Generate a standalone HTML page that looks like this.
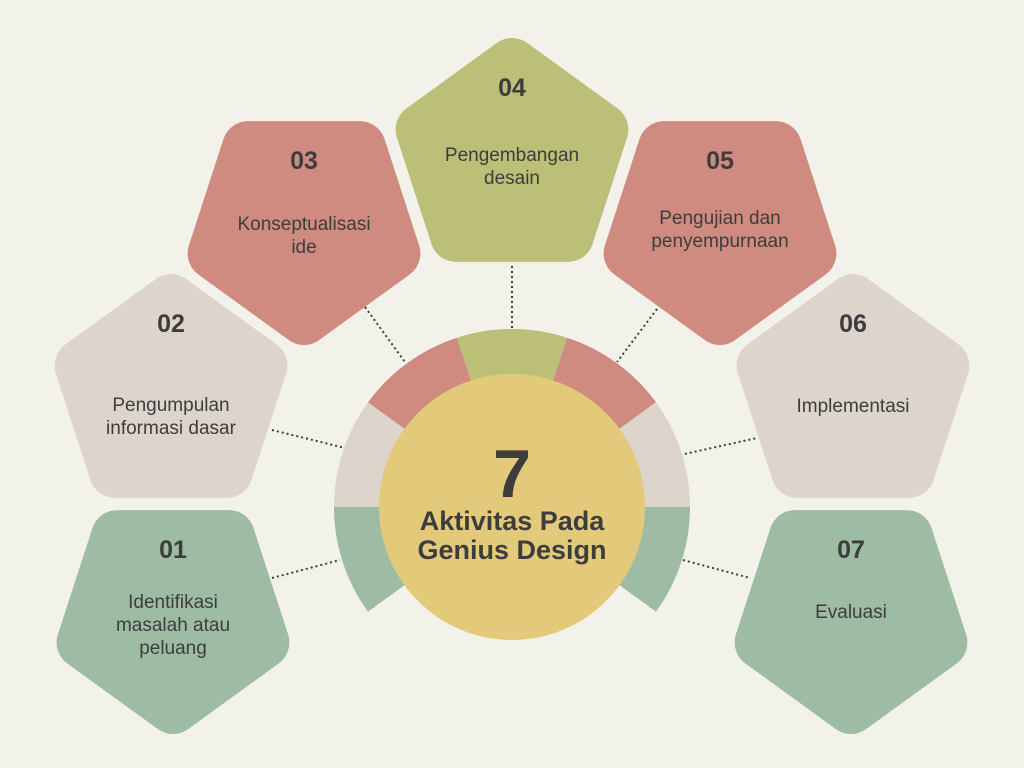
<!DOCTYPE html>
<html><head><meta charset="utf-8"><style>
html,body{margin:0;padding:0;background:#f2f2eb}
svg{display:block}
text{font-family:"Liberation Sans",sans-serif;fill:#3d3d3d;text-anchor:middle}
.n{font-weight:bold;font-size:25px}
.l{font-size:19px}
</style></head><body>
<svg width="1024" height="768" viewBox="0 0 1024 768">
<defs>
<polygon id="up" points="0,-95 90.4,-29.4 55.8,76.9 -55.8,76.9 -90.4,-29.4" stroke-width="52" stroke-linejoin="round"/>
<polygon id="dn" points="0,95 90.4,29.4 55.8,-76.9 -55.8,-76.9 -90.4,29.4" stroke-width="52" stroke-linejoin="round"/>
</defs>
<rect width="1024" height="768" fill="#f2f2eb"/>
<g stroke="#3d3d3d" stroke-width="2" stroke-dasharray="2,3">
<line x1="512" y1="266" x2="512" y2="328"/>
<line x1="365" y1="307" x2="405" y2="362"/>
<line x1="660" y1="305" x2="617" y2="362"/>
<line x1="272" y1="430" x2="345" y2="448"/>
<line x1="680" y1="455" x2="757" y2="438"/>
<line x1="272" y1="578" x2="340" y2="560"/>
<line x1="683" y1="560" x2="750" y2="578"/>
</g>
<use href="#up" x="512" y="159" fill="#bbbf78" stroke="#bbbf78"/>
<use href="#dn" x="304" y="224" fill="#cf8b7f" stroke="#cf8b7f"/>
<use href="#dn" x="720" y="224" fill="#cf8b7f" stroke="#cf8b7f"/>
<use href="#up" x="171" y="395" fill="#ddd5cc" stroke="#ddd5cc"/>
<use href="#up" x="853" y="395" fill="#ddd5cc" stroke="#ddd5cc"/>
<use href="#dn" x="173" y="613" fill="#9ebba4" stroke="#9ebba4"/>
<use href="#dn" x="851" y="613" fill="#9ebba4" stroke="#9ebba4"/>
<path d="M512,507 L368,611.7 A178,178 0 0 1 334,507 Z" fill="#9ebba4"/>
<path d="M512,507 L334,507 A178,178 0 0 1 368,402.3 Z" fill="#ddd5cc"/>
<path d="M512,507 L368,402.3 A178,178 0 0 1 457,337.7 Z" fill="#cf8b7f"/>
<path d="M512,507 L457,337.7 A178,178 0 0 1 567,337.7 Z" fill="#bbbf78"/>
<path d="M512,507 L567,337.7 A178,178 0 0 1 656,402.3 Z" fill="#cf8b7f"/>
<path d="M512,507 L656,402.3 A178,178 0 0 1 690,507 Z" fill="#ddd5cc"/>
<path d="M512,507 L690,507 A178,178 0 0 1 656,611.7 Z" fill="#9ebba4"/>
<circle cx="512" cy="507" r="133" fill="#e3c97a"/>
<text x="512" y="497" font-weight="bold" font-size="68">7</text>
<text x="512" y="530" font-weight="bold" font-size="27">Aktivitas Pada</text>
<text x="512" y="559" font-weight="bold" font-size="27">Genius Design</text>

<text class="n" x="512" y="96">04</text>
<text class="l" x="512" y="161">Pengembangan</text>
<text class="l" x="512" y="184">desain</text>

<text class="n" x="304" y="169">03</text>
<text class="l" x="304" y="230">Konseptualisasi</text>
<text class="l" x="304" y="253">ide</text>

<text class="n" x="720" y="169">05</text>
<text class="l" x="720" y="224">Pengujian dan</text>
<text class="l" x="720" y="247">penyempurnaan</text>

<text class="n" x="171" y="332">02</text>
<text class="l" x="171" y="411">Pengumpulan</text>
<text class="l" x="171" y="434">informasi dasar</text>

<text class="n" x="853" y="332">06</text>
<text class="l" x="853" y="412">Implementasi</text>

<text class="n" x="173" y="558">01</text>
<text class="l" x="173" y="608">Identifikasi</text>
<text class="l" x="173" y="631">masalah atau</text>
<text class="l" x="173" y="654">peluang</text>

<text class="n" x="851" y="558">07</text>
<text class="l" x="851" y="618">Evaluasi</text>
</svg>
</body></html>
